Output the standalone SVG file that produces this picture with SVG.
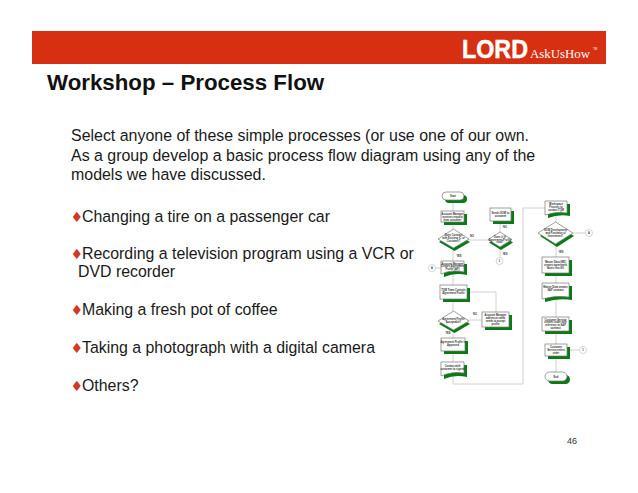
<svg xmlns="http://www.w3.org/2000/svg" width="638" height="493" viewBox="0 0 638 493">
<style>
text{font-family:"Liberation Sans",Arial,sans-serif}
.h{font-size:15.95px;fill:#1a1a1a}
.b{font-size:15.88px;fill:#1a1a1a}
.d{font-size:14px;fill:#cf3a28;font-family:"DejaVu Sans",sans-serif}
.s{fill:#0a7a14;transform:translate(1px,1px)}
.n{fill:#fff;stroke:#777;stroke-width:.7}
.c{fill:none;stroke:#c4c4c4;stroke-width:.8}
.t{font-size:2.6px;fill:#333;text-anchor:middle;font-weight:bold}
.o{fill:#fff;stroke:#bbb;stroke-width:.6}
</style>
<rect width="638" height="493" fill="#fff"/>
<rect x="32" y="31" width="574" height="33" fill="#d62f12"/>
<text x="462" y="58" font-size="25.500" font-weight="bold" fill="#fff" stroke="#fff" stroke-width=".5" textLength="66" lengthAdjust="spacingAndGlyphs">LORD</text>
<text x="530" y="57.500" font-size="13.500" fill="#fff" style="font-family:'Liberation Serif',serif" textLength="60" lengthAdjust="spacingAndGlyphs">AskUsHow</text>
<text x="593" y="50" font-size="3" fill="#fff">TM</text>
<text x="47" y="89.500" font-size="22.300" font-weight="bold" fill="#111">Workshop – Process Flow</text>
<text class="h" x="71" y="141">Select anyone of these simple processes (or use one of our own.</text>
<text class="h" x="71" y="161">As a group develop a basic process flow diagram using any of the</text>
<text class="h" x="71" y="180">models we have discussed.</text>
<text class="d" x="70.500" y="222">♦</text><text class="b" x="82" y="222">Changing a tire on a passenger car</text>
<text class="d" x="70.500" y="259">♦</text><text class="b" x="82" y="259">Recording a television program using a VCR or</text>
<text class="b" x="78" y="277">DVD recorder</text>
<text class="d" x="70.500" y="315">♦</text><text class="b" x="82" y="315">Making a fresh pot of coffee</text>
<text class="d" x="70.500" y="353">♦</text><text class="b" x="82" y="353">Taking a photograph with a digital camera</text>
<text class="d" x="70.500" y="391">♦</text><text class="b" x="82" y="391">Others?</text>
<text x="567" y="444" font-size="9" fill="#333">46</text>
<g id="connectors" class="c">
<path d="M453 200V211M453 221V229M453 248V261M453 273V285M453 299V311M453 330V338M453 351V362M469 240H488M500 221V232M500 247V257M435.500 268H441M469 320H482M496 312V292H467M453 375V384H523V208H545M556 215V222M556 244V257M556 273V283M556 299V317M556 331V344M556 356V372M573 233H585.500M567 350H579.500"/>
</g>
<g id="start"><rect class="s" x="444" y="194" width="22" height="8" rx="4"/><rect class="n" x="442" y="192" width="22" height="8" rx="4"/><text class="t" x="453" y="197">Start</text></g>
<g id="n1"><rect class="s" x="443" y="213" width="23" height="11"/><rect class="n" x="441" y="211" width="23" height="11"/><text class="t" x="452.500" y="214.500">Account Manager<tspan x="452.500" dy="3">receives request</tspan><tspan x="452.500" dy="3">from customer</tspan></text></g>
<g id="d1"><path class="s" d="M453.500 231L469 241 453.500 250 438 241Z"/><path class="n" d="M453.500 229L469 239 453.500 248 438 239Z"/><text class="t" x="453.500" y="236">Does Contract<tspan x="453.500" dy="2.800">with Existing IC or</tspan><tspan x="453.500" dy="2.800">Customer?</tspan></text></g>
<g id="n2"><path class="s" d="M443 263H466V274Q454 271 443 276Z"/><path class="n" d="M441 261H464V272Q452 269 441 274Z"/><text class="t" x="452.500" y="264.500">Account Manager<tspan x="452.500" dy="2.800">Creates Agreement</tspan><tspan x="452.500" dy="2.800">Profile (AP)</tspan></text></g>
<g id="n3"><rect class="s" x="442" y="287" width="27" height="14"/><rect class="n" x="440" y="285" width="27" height="14"/><text class="t" x="453.500" y="291">TQM Team Controls<tspan x="453.500" dy="3">Agreement Profile</tspan></text></g>
<g id="d2"><path class="s" d="M453.500 313L469 323 453.500 332 438 323Z"/><path class="n" d="M453.500 311L469 321 453.500 330 438 321Z"/><text class="t" x="453.500" y="320">Agreement Profile<tspan x="453.500" dy="3">Acceptable?</tspan></text></g>
<g id="n4"><rect class="s" x="443" y="340" width="24" height="13"/><rect class="n" x="441" y="338" width="24" height="13"/><text class="t" x="453" y="343">Agreement Profile is<tspan x="453" dy="3">Approved</tspan></text></g>
<g id="n5"><path class="s" d="M443 364H466V376Q454 373 443 378Z"/><path class="n" d="M441 362H464V373Q452 371 441 376Z"/><text class="t" x="452.500" y="367">Contact with<tspan x="452.500" dy="3">customer to signed</tspan></text></g>
<g id="n6"><rect class="s" x="484" y="314" width="27" height="15"/><rect class="n" x="482" y="312" width="27" height="15"/><text class="t" x="495.500" y="316">Account Manager<tspan x="495.500" dy="3">addresses what</tspan><tspan x="495.500" dy="3">needs to accept</tspan><tspan x="495.500" dy="3">profile</tspan></text></g>
<g id="n7"><rect class="s" x="492" y="210" width="21" height="13"/><rect class="n" x="490" y="208" width="21" height="13"/><text class="t" x="500.500" y="213.500">Sends SOW to<tspan x="500.500" dy="3">customer</tspan></text></g>
<g id="d3"><path class="s" d="M500 234L512 241.500 500 249 488 241.500Z"/><path class="n" d="M500 232L512 239.500 500 247 488 239.500Z"/><text class="t" x="500" y="238">Does it fit<tspan x="500" dy="2.600">Agreement Profile</tspan><tspan x="500" dy="2.600">now?</tspan></text></g>
<g id="n8"><path class="s" d="M547 203H569V215Q558 213 547 217Z"/><path class="n" d="M545 201H567V213Q556 211 545 215Z"/><text class="t" x="556" y="204.500">Workspace<tspan x="556" dy="3">Process to</tspan><tspan x="556" dy="3">contact TQM</tspan></text></g>
<g id="d4"><path class="s" d="M556 224L573 235 556 246 539 235Z"/><path class="n" d="M555.500 222L573 233 555.500 244 538 233Z"/><text class="t" x="555.500" y="231">SOW Development<tspan x="555.500" dy="2.800">and Purchase of</tspan><tspan x="555.500" dy="2.800">Investment?</tspan></text></g>
<g id="n9"><rect class="s" x="544" y="259" width="27" height="16"/><rect class="n" x="542" y="257" width="27" height="16"/><text class="t" x="555.500" y="262.500">Master Data (MD)<tspan x="555.500" dy="3">creates agreement</tspan><tspan x="555.500" dy="3">Notes into SO</tspan></text></g>
<g id="n10"><path class="s" d="M544 285H571V299Q557 297 544 301Z"/><path class="n" d="M542 283H569V297Q555 295 542 299Z"/><text class="t" x="555.500" y="288">Master Data creates<tspan x="555.500" dy="3">SAP contract</tspan></text></g>
<g id="n11"><rect class="s" x="544" y="319" width="27" height="14"/><rect class="n" x="542" y="317" width="27" height="14"/><text class="t" x="555.500" y="320.500">Customer Service<tspan x="555.500" dy="2.800">creates order with</tspan><tspan x="555.500" dy="2.800">reference to SAP</tspan><tspan x="555.500" dy="2.800">contract</tspan></text></g>
<g id="n12"><rect class="s" x="547" y="346" width="22" height="12"/><rect class="n" x="545" y="344" width="22" height="12"/><text class="t" x="556" y="348">Customer<tspan x="556" dy="3">Service enters</tspan><tspan x="556" dy="3">order</tspan></text></g>
<g id="end"><rect class="s" x="547" y="374" width="22" height="9" rx="4.500"/><rect class="n" x="545" y="372" width="22" height="9" rx="4.500"/><text class="t" x="556" y="377.500">End</text></g>
<g id="c1"><circle class="o" cx="432" cy="268" r="3.500"/><text class="t" x="432" y="269">A</text></g>
<g id="c2"><circle class="o" cx="499.500" cy="261" r="3.500"/><text class="t" x="499.500" y="262">1</text></g>
<g id="c3"><circle class="o" cx="589" cy="233" r="3.500"/><text class="t" x="589" y="234">A</text></g>
<g id="c4"><circle class="o" cx="583" cy="350" r="3.500"/><text class="t" x="583" y="351">1</text></g>
<g id="labels">
<text class="t" x="472" y="237">NO</text><text class="t" x="505" y="228">NO</text><text class="t" x="505" y="255">YES</text><text class="t" x="459" y="257">YES</text><text class="t" x="475" y="315">NO</text><text class="t" x="448" y="334">YES</text><text class="t" x="561" y="253">YES</text>
</g>
</svg>
